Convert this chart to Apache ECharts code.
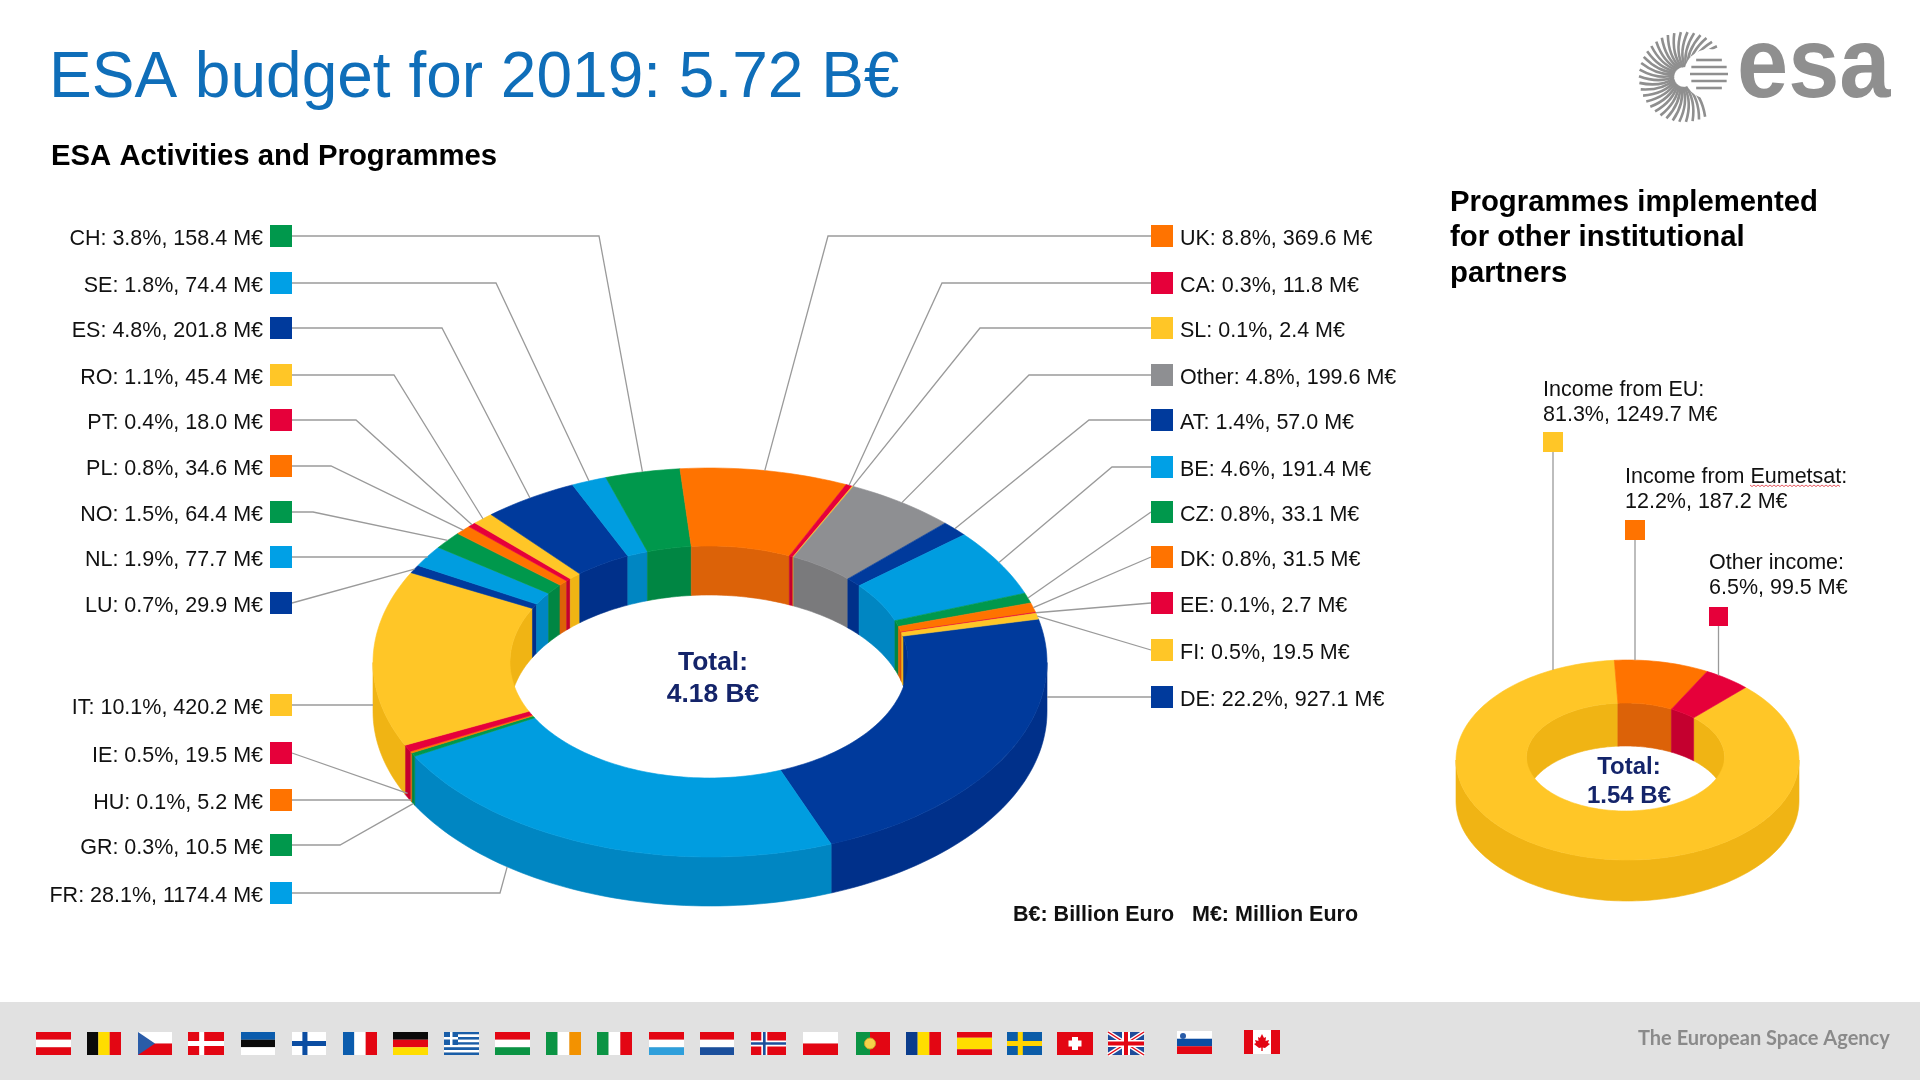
<!DOCTYPE html>
<html>
<head>
<meta charset="utf-8">
<style>html,body{margin:0;padding:0;background:#fff}#c{width:1920px;height:1080px}</style>
<script src="https://cdn.jsdelivr.net/npm/echarts@6/dist/echarts.min.js"></script>
</head>
<body>
<div id="c"></div>
<script>
// ---------- DATA ----------
const memberNames = ['DE','FR','GR','HU','IE','IT','LU','NL','NO','PL','PT','RO','ES','SE','CH','UK','CA','SL','Other','AT','BE','CZ','DK','EE','FI'];
const memberShares = ['22.2','28.1','0.3','0.1','0.5','10.1','0.7','1.9','1.5','0.8','0.4','1.1','4.8','1.8','3.8','8.8','0.3','0.1','4.8','1.4','4.6','0.8','0.8','0.1','0.5'];
const memberValues = [927.1,1174.4,10.5,5.2,19.5,420.2,29.9,77.7,64.4,34.6,18.0,45.4,201.8,74.4,158.4,369.6,11.8,2.4,199.6,57.0,191.4,33.1,31.5,2.7,19.5];
const memberHues = ['navy','sky','green','orange','red','yellow','navy','sky','green','orange','red','yellow','navy','sky','green','orange','red','yellow','grey','navy','sky','green','orange','red','yellow'];
const partnerNames = ['Income from EU','Income from Eumetsat','Other income'];
const partnerShares = ['81.3','12.2','6.5'];
const partnerValues = [1249.7,187.2,99.5];
const partnerHues = ['yellow','orange','red'];
const totalLarge = ['Total:','4.18 B€'];
const totalSmall = ['Total:','1.54 B€'];

// ---------- STYLE / LAYOUT ----------
const FACE = {navy:'#003A9C',sky:'#009DE0',green:'#00984C',orange:'#FF7300',red:'#E6003A',yellow:'#FFC627',grey:'#8E8F92'};
const WALL = {navy:'#00308A',sky:'#0086C2',green:'#008643',orange:'#DC6208',red:'#C4002F',yellow:'#F0B414',grey:'#7A7A7C'};
const SWATCH = {navy:'#003A9C',sky:'#00A0E6',green:'#00984C',orange:'#FF7300',red:'#E6003A',yellow:'#FFC627',grey:'#8E8F92'};
const LEADER = '#9A9A9A', INK = '#111', NAVYTEXT = '#14246A';
const FONT = '"Liberation Sans", Arial, sans-serif';

const bigGeo = {outer:{cx:710,cy:662.5,rx:337,ry:194.5}, inner:{cx:709,cy:662,rx:199,ry:116}, outerDepth:49, innerDepth:49};
const smallGeo = {outer:{cx:1627.5,cy:760,rx:171.5,ry:100}, inner:{cx:1625.5,cy:757,rx:99,ry:54}, outerDepth:41, innerDepth:43};
// share-of-circle degrees -> the tilted picture's ellipse angle (the drawing's own perspective)
const bigWarp = [[0,-12.9],[79.8,68.9],[181,151.2],[184,154.8],[220.2,207.5],[280.9,264.9],[312.7,293.8],[331.1,314.2],[336,318.9],[352.5,339.1],[360,347.1]];
const smallWarp = [[0,-46.5],[292.7,265.5],[336.6,297.6],[360,313.5]];

// leader routing per member label: side, row y, elbow x (null = none), spot in slice, drop onto the wall, h = end level with row
const rowLayout = {
 CH:{s:'L',y:236,e:599},SE:{s:'L',y:283,e:496},ES:{s:'L',y:328,e:442},RO:{s:'L',y:375,e:394},PT:{s:'L',y:420,e:356},
 PL:{s:'L',y:466,e:331},NO:{s:'L',y:512,e:313},NL:{s:'L',y:557,e:null,h:1},LU:{s:'L',y:603,e:null},
 IT:{s:'L',y:705,e:null,f:.478,h:1},IE:{s:'L',y:753,e:null,d:45},HU:{s:'L',y:800,e:null,d:47,h:1},GR:{s:'L',y:845,e:340,d:49},FR:{s:'L',y:893,e:500,f:.706,d:49},
 UK:{s:'R',y:236,e:828},CA:{s:'R',y:283,e:942},SL:{s:'R',y:328,e:980},Other:{s:'R',y:375,e:1029},AT:{s:'R',y:420,e:1089},
 BE:{s:'R',y:467,e:1112},CZ:{s:'R',y:512,e:null},DK:{s:'R',y:557,e:null},EE:{s:'R',y:603,e:null},FI:{s:'R',y:650,e:null},DE:{s:'R',y:697,e:null,f:.158,h:1}
};
const SW = 22, LEFT_SW = 270, RIGHT_SW = 1151;
const partnerLayout = [
 {x:1543,y:432,tx:1543,ty:390,sw:20},
 {x:1625,y:520,tx:1625,ty:477,sw:20},
 {x:1709,y:607,tx:1709,ty:563,sw:19}
];

// ---------- GEOMETRY HELPERS ----------
const rad = d => d*Math.PI/180;
const pt = (e,t,dy=0) => [e.cx+e.rx*Math.cos(rad(t)), e.cy+e.ry*Math.sin(rad(t))+dy];
function warpOf(knots,v){
  for(let i=1;i<knots.length;i++){
    if(v<=knots[i][0]){
      const [a,p]=knots[i-1],[b,q]=knots[i];
      return p+(q-p)*(v-a)/(b-a);
    }
  }
  return knots[knots.length-1][1];
}
function arcs(values,knots){
  const sum=values.reduce((a,b)=>a+b,0); let c=0;
  return values.map(v=>{const a=warpOf(knots,c/sum*360); c+=v; return [a,warpOf(knots,c/sum*360)];});
}
function sweep(a,b){const n=Math.max(2,Math.ceil((b-a)/1.5)); const r=[]; for(let i=0;i<=n;i++) r.push(a+(b-a)*i/n); return r;}
function clipRange(a,b,lo,hi){
  const out=[];
  for(let k=-1;k<=1;k++){const A=Math.max(a,lo+360*k),B=Math.min(b,hi+360*k); if(B>A) out.push([A,B]);}
  return out;
}
function topPoly(g,a,b){const s=sweep(a,b); return s.map(t=>pt(g.outer,t)).concat(s.slice().reverse().map(t=>pt(g.inner,t)));}
function wallPoly(e,depth,a,b){const s=sweep(a,b); return s.map(t=>pt(e,t)).concat(s.slice().reverse().map(t=>pt(e,t,depth)));}
function poly(points,fill){return {type:'polygon',shape:{points},style:{fill,stroke:fill,lineWidth:.6}};}

function donutSeries(values,hues,knots,g){
  const A=arcs(values,knots);
  return [
   {type:'custom',coordinateSystem:'none',silent:true,animation:false,clip:false,z:2,data:values,
    renderItem(p){
      const [a,b]=A[p.dataIndex],col=WALL[hues[p.dataIndex]],ch=[];
      clipRange(a,b,0,180).forEach(r=>ch.push(poly(wallPoly(g.outer,g.outerDepth,r[0],r[1]),col)));
      clipRange(a,b,180,360).forEach(r=>ch.push(poly(wallPoly(g.inner,g.innerDepth,r[0],r[1]),col)));
      return {type:'group',children:ch};
    }},
   {type:'custom',coordinateSystem:'none',silent:true,animation:false,clip:false,z:3,data:values,
    renderItem(p){const [a,b]=A[p.dataIndex]; return poly(topPoly(g,a,b),FACE[hues[p.dataIndex]]);}}
  ];
}

// ---------- LABEL SERIES ----------
const bigArcs=arcs(memberValues,bigWarp);
const memberLabelSeries={type:'custom',coordinateSystem:'none',silent:true,animation:false,clip:false,z:4,data:memberValues,
  renderItem(p){
    const i=p.dataIndex,name=memberNames[i],L=rowLayout[name],[a,b]=bigArcs[i];
    const t=a+(b-a)*(L.f===undefined?.5:L.f);
    const end=pt(bigGeo.outer,t,L.d||0);
    if(L.h) end[1]=L.y;
    const left=L.s==='L';
    const swX=left?LEFT_SW:RIGHT_SW;
    const start=[left?swX+SW:swX,L.y];
    const pts=L.e===null?[start,end]:[start,[L.e,L.y],end];
    return {type:'group',children:[
      {type:'polyline',z2:1,shape:{points:pts},style:{stroke:LEADER,lineWidth:1.3,fill:null}},
      {type:'rect',z2:2,shape:{x:swX,y:L.y-11,width:SW,height:SW},style:{fill:SWATCH[memberHues[i]]}},
      {type:'text',z2:3,style:{text:`${name}: ${memberShares[i]}%, ${memberValues[i].toFixed(1)} M€`,
        x:left?swX-7:swX+SW+7,y:L.y+3,align:left?'right':'left',verticalAlign:'middle',font:`21.5px ${FONT}`,fill:INK}}
    ]};
  }};

const partnerLabelSeries={type:'custom',coordinateSystem:'none',silent:true,animation:false,clip:false,z:4,data:partnerValues,
  renderItem(p){
    const i=p.dataIndex,L=partnerLayout[i],e=smallGeo.outer;
    const x=L.x+L.sw/2;
    const yEnd=e.cy-e.ry*Math.sqrt(1-Math.pow((x-e.cx)/e.rx,2));
    return {type:'group',children:[
      {type:'line',shape:{x1:x,y1:L.y+L.sw,x2:x,y2:yEnd},style:{stroke:LEADER,lineWidth:1.3}},
      {type:'rect',shape:{x:L.x,y:L.y,width:L.sw,height:L.sw},style:{fill:SWATCH[partnerHues[i]]}},
      {type:'text',style:{text:partnerNames[i]+':',x:L.tx,y:L.ty,verticalAlign:'middle',font:`21.5px ${FONT}`,fill:INK}},
      {type:'text',style:{text:`${partnerShares[i]}%, ${partnerValues[i].toFixed(1)} M€`,x:L.tx,y:L.ty+25,verticalAlign:'middle',font:`21.5px ${FONT}`,fill:INK}}
    ]};
  }};

// ---------- STATIC PAGE FURNITURE ----------
function T(text,x,y,font,fill,align){return {type:'text',z:10,style:{text,x,y,font,fill,align:align||'left',verticalAlign:'middle'}};}
const furn=[];
furn.push(T('ESA budget for 2019: 5.72 B€',49,79,`64px ${FONT}`,'#0F6EB9'));
furn.push(T('ESA Activities and Programmes',51,157,`bold 29.3px ${FONT}`,'#000'));
furn.push(T('Programmes implemented',1450,203,`bold 29.3px ${FONT}`,'#000'));
furn.push(T('for other institutional',1450,238,`bold 29.3px ${FONT}`,'#000'));
furn.push(T('partners',1450,274,`bold 29.3px ${FONT}`,'#000'));
furn.push(T('B€: Billion Euro',1013,915,`bold 21.5px ${FONT}`,'#111'));
furn.push(T('M€: Million Euro',1192,915,`bold 21.5px ${FONT}`,'#111'));
furn.push(T(totalLarge[0],713,663,`bold 26.4px ${FONT}`,NAVYTEXT,'center'));
furn.push(T(totalLarge[1],713,695,`bold 26.4px ${FONT}`,NAVYTEXT,'center'));
furn.push(T(totalSmall[0],1629,767,`bold 24px ${FONT}`,NAVYTEXT,'center'));
furn.push(T(totalSmall[1],1629,796,`bold 24px ${FONT}`,NAVYTEXT,'center'));
// spell-check squiggle under "Eumetsat"
(function(){const p=[];for(let i=0;i<=45;i++)p.push([1750+i*2,485+(i%2?1.6:0)]);
 furn.push({type:'polyline',z:11,shape:{points:p},style:{stroke:'#E0303A',lineWidth:.8,fill:null}});})();

// footer
furn.push({type:'rect',z:1,shape:{x:0,y:1002,width:1920,height:78},style:{fill:'#E1E1E1'}});
furn.push(T('The European Space Agency',1638,1039,`bold 20px Lato, ${FONT}`,'#8A8A8A'));

// flags
const Rd='#E30613',Wh='#FFFFFF',Bl='#0B5CAD',Bk='#0A0A0A',Yl='#FFDD00',Gn='#0B9444';
function rct(x,y,w,h,fill,z){furn.push({type:'rect',z:z||5,shape:{x,y,width:w,height:h},style:{fill}});}
function H(x0,x1,y0,y1,list){const tot=list.reduce((s,c)=>s+(c[1]||1),0);let y=y0;list.forEach(c=>{const h=(y1-y0)*(c[1]||1)/tot;rct(x0,y,x1-x0,h,c[0]);y+=h;});}
function V(x0,x1,y0,y1,list){const w=(x1-x0)/list.length;list.forEach((c,i)=>rct(x0+i*w,y0,w,y1-y0,c));}
function C(x0,x1,y0,y1,bg,cr,inner){
  const W=x1-x0,Hh=y1-y0;rct(x0,y0,W,Hh,bg);const cx=x0+W*.38,cy=y0+Hh/2,t=inner?Hh*.26:Hh*.22;
  rct(cx-t/2,y0,t,Hh,cr,6);rct(x0,cy-t/2,W,t,cr,6);
  if(inner){const u=t*.45;rct(cx-u/2,y0,u,Hh,inner,7);rct(x0,cy-u/2,W,u,inner,7);}
}
const y0=1032,y1=1055;
H(36,71,y0,y1,[[Rd],[Wh],[Rd]]);
V(87,121,y0,y1,[Bk,Yl,Rd]);
H(138,172,y0,y1,[[Wh],[Rd]]);furn.push({type:'polygon',z:6,shape:{points:[[138,y0],[155,(y0+y1)/2],[138,y1]]},style:{fill:'#2A5CA8'}});
C(188,224,y0,y1,Rd,Wh);
H(241,275,y0,y1,[[Bl],[Bk],[Wh]]);
C(292,326,y0,y1,Wh,'#0B4DA2');
V(343,377,y0,y1,[Bl,Wh,Rd]);
H(393,428,y0,y1,[[Bk],[Rd],[Yl]]);
H(444,479,y0,y1,[['#1A5EA8'],[Wh],['#1A5EA8'],[Wh],['#1A5EA8'],[Wh],['#1A5EA8'],[Wh],['#1A5EA8']]);
rct(444,y0,14,13,'#1A5EA8',6);rct(450,y0,2.5,13,Wh,7);rct(444,y0+5,14,2.5,Wh,7);
H(495,530,y0,y1,[[Rd],[Wh],[Gn]]);
V(546,581,y0,y1,[Gn,Wh,'#F39200']);
V(597,632,y0,y1,[Gn,Wh,Rd]);
H(649,684,y0,y1,[[Rd],[Wh],['#2F9FDB']]);
H(700,734,y0,y1,[[Rd],[Wh],['#1B4F9C']]);
C(751,786,y0,y1,Rd,Wh,'#1B4F9C');
H(803,838,y0,y1,[[Wh],[Rd]]);
rct(856,y0,14,y1-y0,Gn);rct(870,y0,20,y1-y0,Rd);
furn.push({type:'circle',z:6,shape:{cx:870,cy:(y0+y1)/2,r:5.5},style:{fill:'#F6D24A',stroke:'#C9A227',lineWidth:1}});
V(906,941,y0,y1,['#0B3C8C',Yl,Rd]);
H(957,992,y0,y1,[[Rd,1],[Yl,2],[Rd,1]]);
C(1007,1042,y0,y1,'#0B5CA8','#FFD400');
rct(1057,y0,36,y1-y0,Rd);rct(1072,y0+5,6,13,Wh,6);rct(1068.5,y0+8.5,13,6,Wh,6);
// UK
rct(1108,y0,36,y1-y0,'#1F4C9A');
[[1108,y0,1144,y1],[1108,y1,1144,y0]].forEach(l=>{
  furn.push({type:'line',z:6,shape:{x1:l[0],y1:l[1],x2:l[2],y2:l[3]},style:{stroke:Wh,lineWidth:4}});
  furn.push({type:'line',z:7,shape:{x1:l[0],y1:l[1],x2:l[2],y2:l[3]},style:{stroke:Rd,lineWidth:1.4}});});
rct(1122,y0,8,y1-y0,Wh,8);rct(1108,1040,36,7,Wh,8);rct(1124,y0,4,y1-y0,Rd,9);rct(1108,1041.5,36,4,Rd,9);
// SI
H(1177,1212,1031,1054,[[Wh],['#0B4DA2'],[Rd]]);
furn.push({type:'circle',z:6,shape:{cx:1183,cy:1036,r:3},style:{fill:'#2A5CA8'}});
// CA
rct(1244,1030,9,24,Rd);rct(1253,1030,18,24,Wh);rct(1271,1030,9,24,Rd);
furn.push({type:'polygon',z:6,shape:{points:[[1262,1034],[1264,1038],[1266,1037],[1265.5,1041],[1269,1040],[1268,1043],[1270,1044],[1265,1048],[1262.7,1047.5],[1262.7,1051],[1261.3,1051],[1261.3,1047.5],[1259,1048],[1254,1044],[1256,1043],[1255,1040],[1258.5,1041],[1258,1037],[1260,1038]]},style:{fill:Rd}});

// logo
const LG='#8F8F8F';
furn.push({type:'text',z:10,x:1737,y:69,scaleY:1.09,style:{text:'esa',x:0,y:0,align:'left',verticalAlign:'middle',font:`bold 92px ${FONT}`,fill:LG}});
(function(){
  const cx=1684,cy=77,R=45;
  for(let a=62;a<=318;a+=8.5){
    const c=Math.cos(rad(a)),s=Math.sin(rad(a));
    const c2=Math.cos(rad(a-16)),s2=Math.sin(rad(a-16));
    furn.push({type:'bezierCurve',z:6,shape:{x1:cx+c*10,y1:cy+s*10,x2:cx+c*R,y2:cy+s*R,cpx1:cx+c2*26,cpy1:cy+s2*26},style:{stroke:LG,lineWidth:2.6,fill:null}});
  }
  furn.push({type:'circle',z:7,shape:{cx:1709,cy:74,r:25},style:{fill:'#fff'}});
  for(let k=-2;k<=2;k++){
    const y=74+k*7,w=Math.sqrt(Math.max(0,19*19-(k*7)*(k*7)));
    furn.push({type:'line',z:8,shape:{x1:1709-w,y1:y,x2:1709+w,y2:y},style:{stroke:LG,lineWidth:2.6}});
  }
})();

// ---------- CHART ----------
const chart=echarts.init(document.getElementById('c'),null,{renderer:'canvas',width:1920,height:1080});
chart.setOption({
  animation:false,
  backgroundColor:'#fff',
  tooltip:{show:false},
  graphic:{elements:furn},
  series:[
    ...donutSeries(memberValues,memberHues,bigWarp,bigGeo),
    ...donutSeries(partnerValues,partnerHues,smallWarp,smallGeo),
    memberLabelSeries,
    partnerLabelSeries
  ]
});
</script>
</body>
</html>
